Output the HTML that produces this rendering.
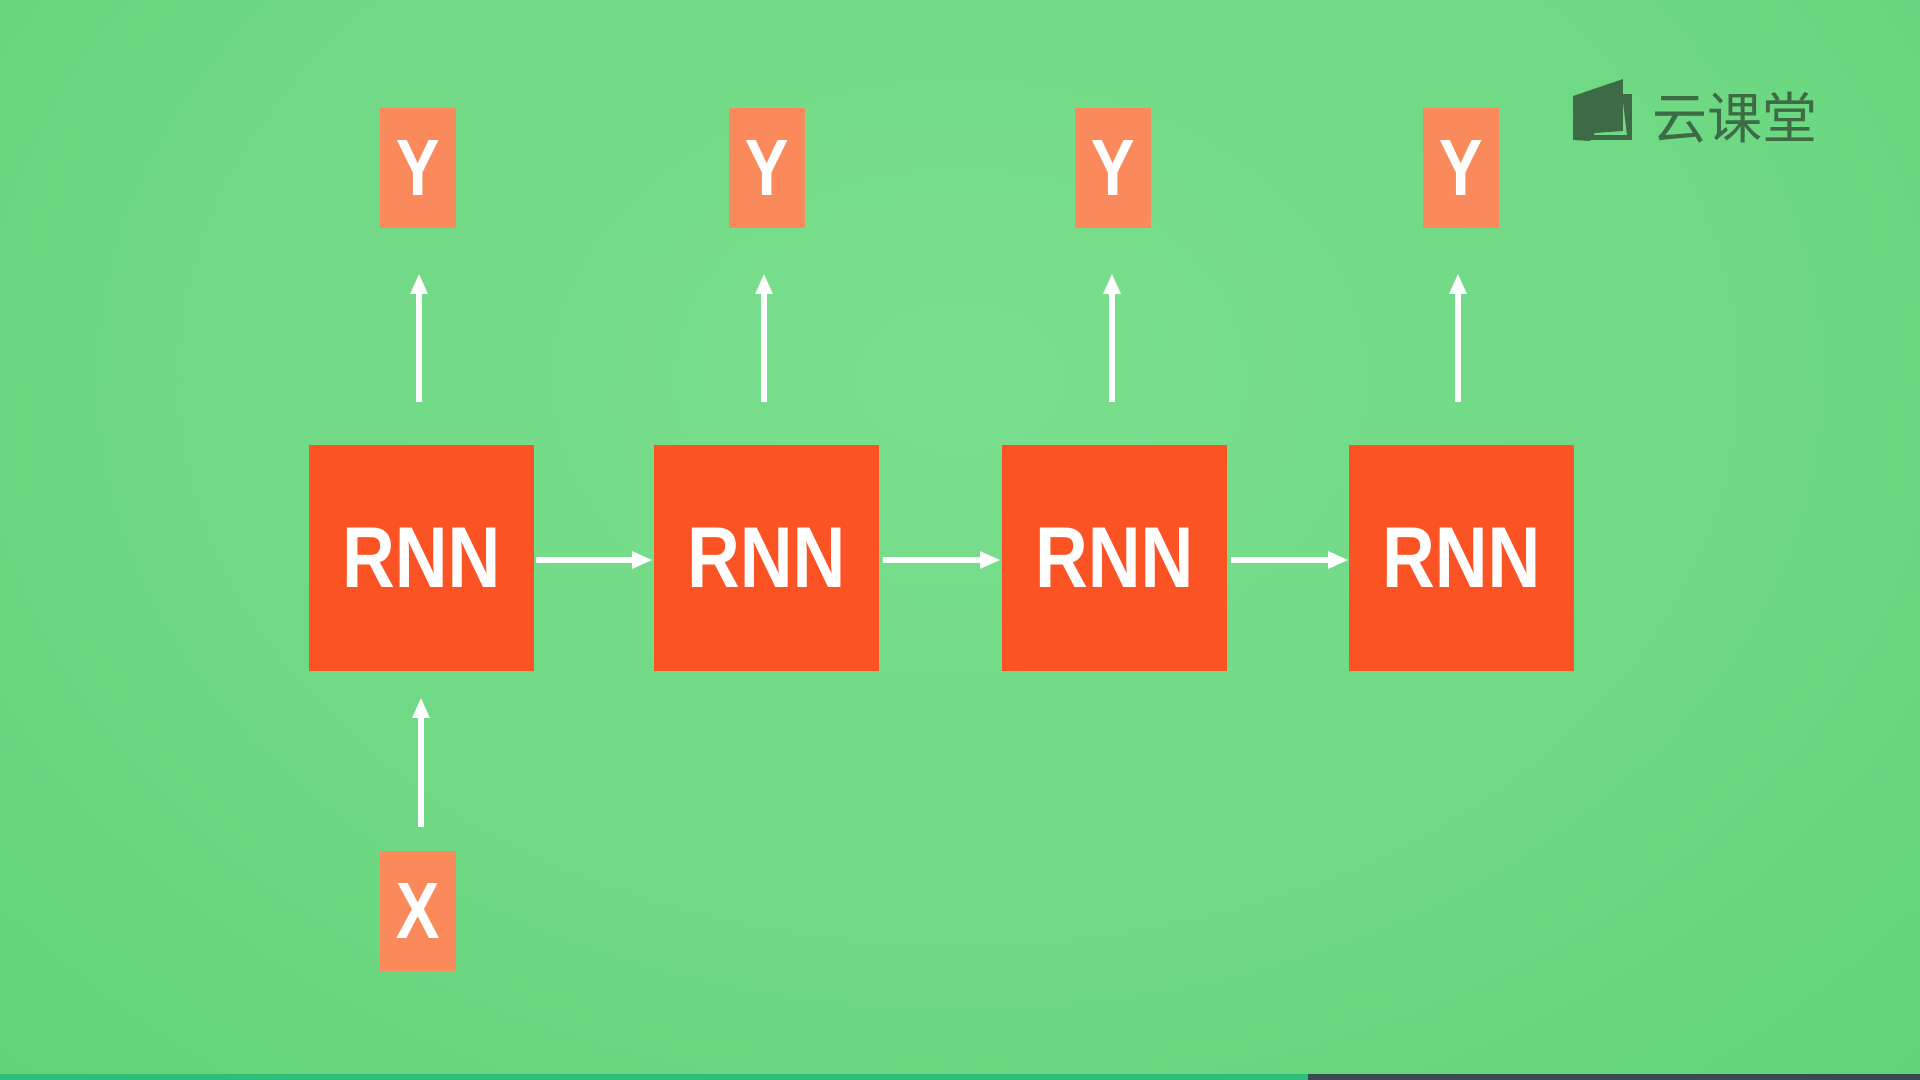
<!DOCTYPE html>
<html><head><meta charset="utf-8"><style>
html,body{margin:0;padding:0}
body{width:1920px;height:1080px;position:relative;overflow:hidden;background:radial-gradient(ellipse at 50% 35%,#7adf8e 0%,#70d985 55%,#62d477 100%);font-family:"Liberation Sans","Noto Sans CJK SC",sans-serif}
.r{position:absolute;background:#fc5325;width:225px;height:226px;top:445px;color:#fff;font-weight:bold;font-size:86px;line-height:226px;text-align:center}
.r span{display:inline-block;transform:scaleX(0.85)}
.y{position:absolute;background:#fa8a5c;width:76px;height:120px;color:#fff;font-weight:bold;font-size:80px;line-height:120px;text-align:center}
.y span{display:inline-block;transform:scaleX(0.82)}
svg{position:absolute;left:0;top:0}
</style></head><body>
<div class="y" style="left:380px;top:108px"><span>Y</span></div>
<div class="y" style="left:729px;top:108px"><span>Y</span></div>
<div class="y" style="left:1075px;top:108px"><span>Y</span></div>
<div class="y" style="left:1423px;top:108px"><span>Y</span></div>
<div class="y" style="left:380px;top:851px"><span>X</span></div>
<div class="r" style="left:309px"><span>RNN</span></div>
<div class="r" style="left:654px"><span>RNN</span></div>
<div class="r" style="left:1002px"><span>RNN</span></div>
<div class="r" style="left:1349px"><span>RNN</span></div>
<svg width="1920" height="1080">
<g stroke="#fff" stroke-width="6" fill="none">
<line x1="419" y1="402" x2="419" y2="290"/>
<line x1="764" y1="402" x2="764" y2="290"/>
<line x1="1112" y1="402" x2="1112" y2="290"/>
<line x1="1458" y1="402" x2="1458" y2="290"/>
<line x1="421" y1="827" x2="421" y2="714"/>
<line x1="536" y1="560" x2="636" y2="560"/>
<line x1="883" y1="560" x2="984" y2="560"/>
<line x1="1231" y1="560" x2="1332" y2="560"/>
</g>
<g fill="#fff">
<polygon points="419,274 410,294 428,294"/>
<polygon points="764,274 755,294 773,294"/>
<polygon points="1112,274 1103,294 1121,294"/>
<polygon points="1458,274 1449,294 1467,294"/>
<polygon points="421,698 412,718 430,718"/>
<polygon points="652,560 632,551 632,569"/>
<polygon points="1000,560 980,551 980,569"/>
<polygon points="1348,560 1328,551 1328,569"/>
</g>
<g fill="#3c6b45">
<polygon points="1573,96 1623,79 1623,131 1595,133 1590,141 1573,140"/>
<path d="M1622,94 h10 v46 h-50 v-5 h45 z"/>
</g>
<rect x="0" y="1074" width="1308" height="6" fill="#2dbf7a"/>
<rect x="1308" y="1074" width="612" height="6" fill="#3b4a4e"/>
</svg>
<div style="position:absolute;left:1652px;top:82px;font-size:55px;line-height:64px;color:#3c6b45;font-family:'Noto Sans CJK SC',sans-serif;font-weight:400">云课堂</div>
</body></html>
